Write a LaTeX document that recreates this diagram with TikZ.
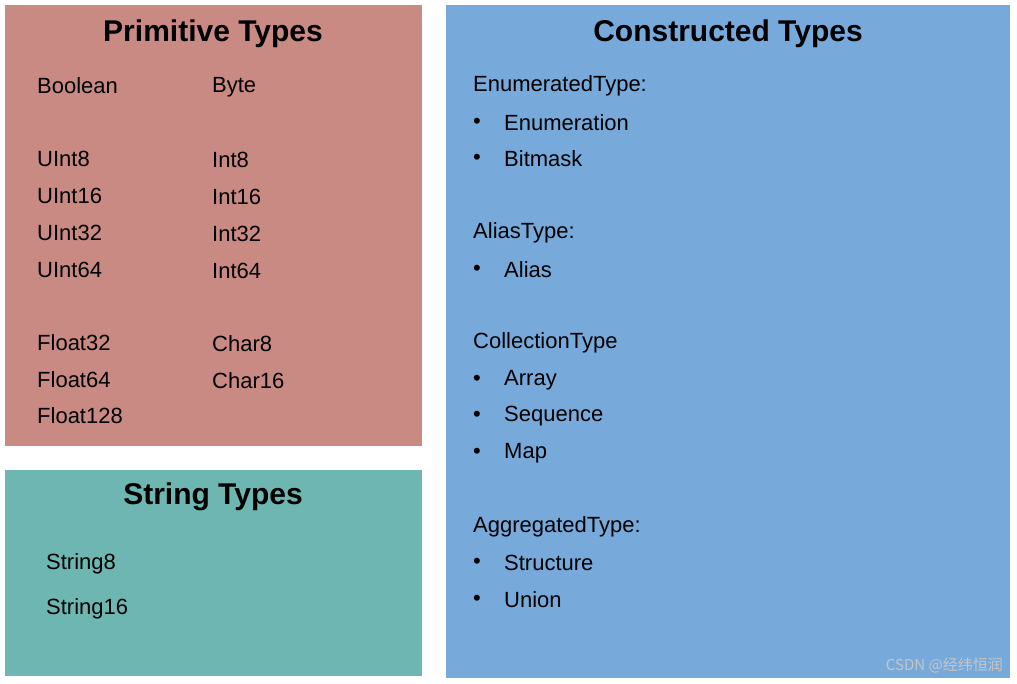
\documentclass[tikz,border=0pt]{standalone}
\usepackage{fontspec}
\setmainfont{Liberation Sans}
\newfontfamily\cjkf{Noto Sans CJK SC}
\definecolor{prim}{HTML}{C98A84}
\definecolor{strc}{HTML}{6DB6B1}
\definecolor{cons}{HTML}{77AADB}
\begin{document}
\begin{tikzpicture}[x=1pt,y=-1pt,
  txt/.style={anchor=west,inner sep=0pt,font=\fontsize{22}{24}\selectfont},
  ttl/.style={inner sep=0pt,font=\fontsize{30}{32}\selectfont\bfseries}]
\useasboundingbox (0,0) rectangle (1017,684);
\fill[white] (0,0) rectangle (1017,684);
\fill[prim] (5,5) rectangle (422,446);
\fill[strc] (5,470) rectangle (422,676);
\fill[cons] (446,5) rectangle (1010,678);
\node[ttl] (tp) at (213,34) {Primitive Types};
\node[ttl] (ts) at (213,497) {String Types};
\node[ttl] (tc) at (728,34) {Constructed Types};
\foreach \t/\y [count=\i] in {Boolean/86,UInt8/159,UInt16/196,UInt32/233,UInt64/270,Float32/343,Float64/380,Float128/416}
  \node[txt] (pl\i) at (37,\y) {\t};
\foreach \t/\y [count=\i] in {Byte/87,Int8/160,Int16/197,Int32/234,Int64/271,Char8/344,Char16/381}
  \node[txt] (pr\i) at (212,\y) {\t};
\node[txt] (s1) at (46,564) {String8};
\node[txt] (s2) at (46,609) {String16};
\foreach \t/\y [count=\i] in {EnumeratedType:/86,AliasType:/233,CollectionType/343,AggregatedType:/527}
  \node[txt] (h\i) at (473,\y) {\t};
\foreach \t/\y [count=\i] in {Enumeration/123,Bitmask/159,Alias/270,Array/380,Sequence/416,Map/453,Structure/563,Union/600}{
  \node[txt] (b\i) at (473,\y) {\textbullet};
  \node[txt] (i\i) at (504,\y) {\t};}
\node[anchor=east,inner sep=0pt,text=white!55!gray,font=\cjkf\fontsize{15}{16}\selectfont] (wm) at (1003,665) {CSDN @经纬恒润};
\end{tikzpicture}
\end{document}
